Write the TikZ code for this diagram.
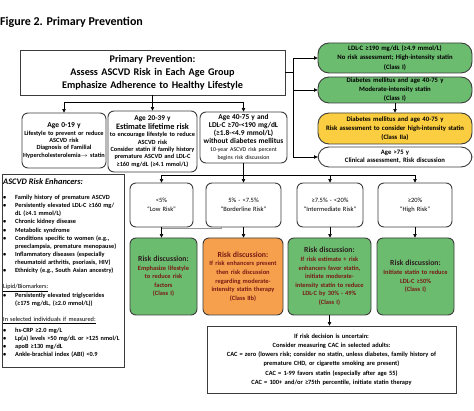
\documentclass[tikz,border=0pt]{standalone}
\usepackage{fontspec}
\setmainfont{Carlito}
\usetikzlibrary{arrows.meta}
\definecolor{gfill}{RGB}{108,188,112}
\definecolor{ofill}{RGB}{246,160,78}
\definecolor{yfill}{RGB}{251,205,64}
\definecolor{bord}{RGB}{60,60,60}
\definecolor{dred}{RGB}{120,25,20}
\definecolor{hdark}{RGB}{45,30,30}
\definecolor{lgray}{RGB}{150,150,150}
\newcommand{\fz}[2]{\fontsize{#1}{#2}\selectfont}
\newcommand{\bul}{\makebox[12pt][l]{\textbullet}}
\newcommand{\cnt}{\hspace*{12pt}}
\begin{document}
\begin{tikzpicture}[x=1pt,y=-1pt,
 box/.style={draw=bord,line width=0.9pt,align=center,inner sep=0pt},
 rbox/.style={box,rounded corners=6pt},
 pill/.style={box,rounded corners=11pt,minimum width=154pt,text width=152pt,font=\fz{6.7}{9}\bfseries},
 agebox/.style={rbox,font=\fz{6.3}{7.4}\bfseries},
 riskbox/.style={rbox,minimum height=44pt,font=\fz{6.5}{9}},
 disc/.style={rbox,minimum height=77pt,text=dred,font=\fz{6.4}{8.6}\bfseries},
 arr/.style={-{Triangle[length=3.5pt,width=3.5pt]},line width=0.7pt},
 ln/.style={line width=0.7pt},
 grayln/.style={line width=1pt,draw=lgray}
]
\useasboundingbox (0,0) rectangle (474,411);

% title
\node[anchor=west,inner sep=0pt,font=\fz{12}{14}\bfseries] (title) at (0,22) {Figure 2. Primary Prevention};

% top box
\node[box,minimum width=265pt,minimum height=45pt,text width=262pt,font=\fz{10.2}{13}\bfseries] (top) at (152.5,72.5)
 {Primary Prevention:\\Assess ASCVD Risk in Each Age Group\\Emphasize Adherence to Healthy Lifestyle};

% age boxes
\node[agebox,minimum width=84pt,minimum height=55pt,text width=82pt] (age0) at (64,140.5)
 {{\fz{7.5}{8.5}Age 0-19 y\par}Lifestyle to prevent or reduce\\ASCVD risk\\Diagnosis of Familial\\Hypercholesterolemia$\rightarrow$ statin};
\node[agebox,minimum width=89pt,minimum height=61pt,text width=87pt] (age20) at (152.5,141.5)
 {{\fz{7.3}{8}Age 20-39 y\par}{\fz{8.3}{9}Estimate lifetime risk\par}to encourage lifestyle to reduce\\ASCVD risk\\Consider statin if family history\\premature ASCVD and LDL-C\\≥160 mg/dL (≥4.1 mmol/L)};
\node[agebox,minimum width=87pt,minimum height=51pt,text width=86pt] (age40) at (243.5,137.5)
 {{\fz{7.4}{8.2}Age 40-75 y and\\LDL-C ≥70-<190 mg/dL\\(≥1.8-<4.9 mmol/L)\\without diabetes mellitus\par}{\fz{5.8}{8}\mdseries 10-year ASCVD risk percent\\begins risk discussion\par}};

% right column
\node[pill,fill=gfill,minimum height=30pt,font=\fz{6.7}{9.8}\bfseries] (g1) at (395,58)
 {LDL-C ≥190 mg/dL (≥4.9 mmol/L)\\No risk assessment; High-intensity statin\\(Class I)};
\node[pill,fill=gfill,minimum height=26pt] (g2) at (395,90)
 {Diabetes mellitus and age 40-75 y\\Moderate-intensity statin\\(Class I)};
\node[pill,fill=yfill,minimum height=31pt] (yb) at (395,128.5)
 {Diabetes mellitus and age 40-75 y\\Risk assessment to consider high-intensity statin\\(Class IIa)};
\node[pill,fill=white,minimum height=20pt,font=\fz{6.7}{8.5}\bfseries] (wb) at (395,157)
 {Age >75 y\\Clinical assessment, Risk discussion};

% enhancers box
\node[box,anchor=north west,minimum width=122pt,minimum height=193pt] (enh) at (2,174) {};
\node[anchor=north west,inner sep=0pt,align=left,text width=121pt,font=\fz{6.3}{8.1}\bfseries] (enhtext) at (3,178.5)
 {{\fz{8.4}{9}\bfseries\itshape ASCVD Risk Enhancers:\par}\vspace{7pt}%
 \bul Family history of premature ASCVD\\
 \bul Persistently elevated LDL-C ≥160 mg/\\
 \cnt dL (≥4.1 mmol/L)\\
 \bul Chronic kidney disease\\
 \bul Metabolic syndrome\\
 \bul Conditions specific to women (e.g.,\\
 \cnt preeclampsia, premature menopause)\\
 \bul Inflammatory diseases (especially\\
 \cnt rheumatoid arthritis, psoriasis, HIV)\\
 \bul Ethnicity (e.g., South Asian ancestry)\\[8pt]
 {\mdseries\underline{Lipid/Biomarkers:}}\\[1pt]
 \bul Persistently elevated triglycerides\\
 \cnt (≥175 mg/dL, (≥2.0 mmol/L))\\[8pt]
 {\mdseries\underline{In selected individuals if measured:}}\\[2pt]
 \bul hs-CRP ≥2.0 mg/L\\
 \bul Lp(a) levels >50 mg/dL or >125 nmol/L\\
 \bul apoB ≥130 mg/dL\\
 \bul Ankle-brachial index (ABI) <0.9};

% risk boxes
\node[riskbox,minimum width=63pt,text width=61pt] (r1) at (161.5,205) {<5\%\\“Low Risk”};
\node[riskbox,minimum width=75pt,text width=73pt] (r2) at (243.5,205) {5\% - <7.5\%\\“Borderline Risk”};
\node[riskbox,minimum width=66pt,text width=65pt] (r3) at (330,205) {≥7.5\% - <20\%\\“Intermediate Risk”};
\node[riskbox,minimum width=74pt,text width=72pt] (r4) at (415,205) {≥20\%\\“High Risk”};

% discussion boxes
\node[disc,fill=gfill,minimum width=67pt,text width=66pt] (d1) at (163.5,276.5)
 {{\fz{7.8}{9}\color{hdark}Risk discussion:\par}Emphasize lifestyle\\to reduce risk\\factors\\(Class I)};
\node[disc,fill=ofill,minimum width=80pt,text width=79pt] (d2) at (243,276.5)
 {{\fz{7.8}{9}Risk discussion:\par}If risk enhancers present\\then risk discussion\\regarding moderate-\\intensity statin therapy\\(Class IIb)};
\node[disc,fill=gfill,minimum width=83pt,text width=82pt] (d3) at (329.5,276.5)
 {{\fz{7.8}{9}\color{hdark}Risk discussion:\par}If risk estimate + risk\\enhancers favor statin,\\initiate moderate-\\intensity statin to reduce\\LDL-C by 30\% - 49\%\\(Class I)};
\node[disc,fill=gfill,minimum width=77pt,text width=76pt] (d4) at (415.5,276.5)
 {{\fz{7.8}{9}\color{hdark}Risk discussion:\par}Initiate statin to reduce\\LDL-C ≥50\%\\(Class I)};

% CAC box
\node[box,minimum width=249pt,minimum height=67pt,text width=247pt,font=\fz{6.4}{9.2}\bfseries] (cac) at (331.5,359.5)
 {If risk decision is uncertain:\\Consider measuring CAC in selected adults:\\CAC = zero (lowers risk; consider no statin, unless diabetes, family history of\\premature CHD, or cigarette smoking are present)\\CAC = 1-99 favors statin (especially after age 55)\\CAC = 100+ and/or ≥75th percentile, initiate statin therapy};

% connectors: top box to age boxes
\coordinate (j1) at (152.5,102);
\draw[ln] (top.south) -- (j1);
\draw[arr] (j1) -| (age0.north);
\draw[arr] (j1) -- (age20.north);
\draw[arr] (j1) -| (age40.north);

% top box to right column
\coordinate (j2) at (293,72.5);
\draw[ln] (top.east) -- (j2);
\draw[arr] (j2) |- (g1.west);
\draw[arr] (j2) |- (g2.west);
\draw[arr] (j2) |- (wb.west);
\draw[arr] (g2.south) -- (yb.north);

% age 40-75 to risk boxes
\coordinate (j3) at (243.5,175);
\draw[ln] (age40.south) -- (j3);
\draw[arr] (j3) -| (r1.north);
\draw[arr] (j3) -- (r2.north);
\draw[arr] (j3) -| (r3.north);
\draw[arr] (j3) -| (r4.north);

% risk to discussion
\coordinate (gl) at (221,229);
\draw[grayln] (r1.south |- gl) -- (gl) -- (gl |- r2.south);
\draw[arr] (r1.south) -- (r1.south |- d1.north);
\draw[arr] (r2.south) -- (r2.south |- d2.north);
\draw[arr] (r3.south) -- (r3.south |- d3.north);
\draw[arr] (r4.south) -- (r4.south |- d4.north);
\draw[arr] (d3.south) -- (d3.south |- cac.north);
\end{tikzpicture}
\end{document}
